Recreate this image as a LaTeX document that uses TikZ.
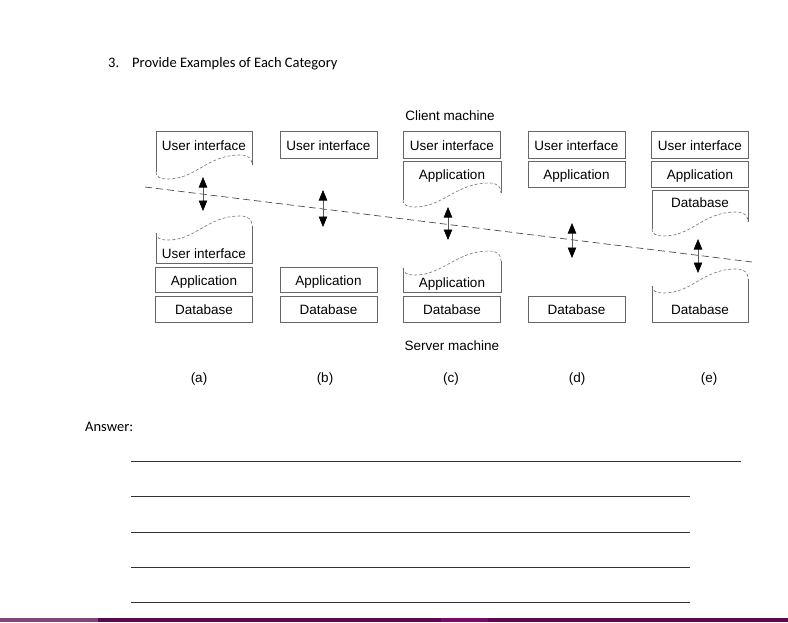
\documentclass[tikz,border=0pt]{standalone}
\usepackage{fontspec}
\setmainfont{Liberation Sans}
\newfontfamily\calfont{Carlito}
\usetikzlibrary{arrows.meta}

\newcommand\tornWave[3]{({#1},{#3+17}) .. controls ({#1},{#3+22}) and ({#1+4},{#3+24}) .. ({#1+12},{#3+24}) .. controls ({#1+40},{#3+24}) and ({#2-45},{#3}) .. ({#2-12},{#3}) .. controls ({#2-3},{#3}) and ({#2},{#3+4}) .. ({#2},{#3+10})}

\begin{document}
\begin{tikzpicture}[x=1pt,y=-1pt,
  lbl/.style={font=\fontsize{13.5}{16}\selectfont, inner sep=0pt, text height=11.2pt, text depth=0pt},
  box/.style={lbl, draw=black!60, line width=0.7pt, minimum width=97pt},
  side/.style={draw=black!60, line width=0.7pt},
  wave/.style={draw=black!55, line width=0.6pt, dash pattern=on 3pt off 2pt},
  dblarrow/.style={draw=black!65, line width=0.6pt, {Triangle[width=8.5pt,length=10.5pt,color=black]}-{Triangle[width=8.5pt,length=10.5pt,color=black]}},
  divide/.style={draw=black!70, line width=0.7pt, dash pattern=on 7pt off 4pt},
  doc/.style={font=\calfont\fontsize{14.5}{17}\selectfont, inner sep=0pt, anchor=base west},
  rule/.style={draw=black!80, line width=0.8pt}]
\useasboundingbox (0,0) rectangle (788,622);

% title
\node[doc] (num) at (108,67) {3.};
\node[doc] (title) at (132,67) {Provide Examples of Each Category};

% headings
\node[lbl] (client) at (450,114.5) {Client machine};
\node[lbl] (server) at (452,345) {Server machine};

% ---------- (a)
\draw[side] (156,172) -- (156,131) -- (252,131) -- (252,165);
\draw[wave] \tornWave{156}{252}{155};
\node[lbl] (aui) at (204,145) {User interface};
\draw[side] (156,233) -- (156,263) -- (252,263) -- (252,226);
\draw[wave] \tornWave{156}{252}{216};
\node[lbl] (aui2) at (204,253) {User interface};
\node[box, minimum height=25pt] (aapp) at (204,279.5) {Application};
\node[box, minimum height=26pt] (adb) at (204,309) {Database};

% ---------- (b)
\node[box, minimum height=27pt] (bui) at (328.5,144.5) {User interface};
\node[box, minimum height=25pt] (bapp) at (328.5,279.5) {Application};
\node[box, minimum height=26pt] (bdb) at (328.5,309) {Database};

% ---------- (c)
\node[box, minimum height=27pt] (cui) at (452,144.5) {User interface};
\draw[side] (403,200) -- (403,161) -- (501,161) -- (501,193);
\draw[wave] \tornWave{403}{501}{183};
\node[lbl] (capp) at (452,174) {Application};
\draw[side] (403,268) -- (403,292) -- (501,292) -- (501,261);
\draw[wave] \tornWave{403}{501}{251};
\node[lbl] (capp2) at (452,282) {Application};
\node[box, minimum height=26pt] (cdb) at (452,309) {Database};

% ---------- (d)
\node[box, minimum height=27pt] (dui) at (576.5,144.5) {User interface};
\node[box, minimum height=26pt] (dapp) at (576.5,174) {Application};
\node[box, minimum height=26pt] (ddb) at (576.5,309) {Database};

% ---------- (e)
\node[box, minimum height=27pt] (eui) at (700,144.5) {User interface};
\node[box, minimum height=26pt] (eapp) at (700,174) {Application};
\draw[side] (652,229) -- (652,190) -- (748,190) -- (748,222);
\draw[wave] \tornWave{652}{748}{212};
\node[lbl] (edb) at (700,202) {Database};
\draw[side] (652,286) -- (652,322) -- (748,322) -- (748,279);
\draw[wave] \tornWave{652}{748}{269};
\node[lbl] (edb2) at (700,309) {Database};

% dividing line
\coordinate (dl) at (145,187);
\coordinate (dr) at (752,262);
\draw[divide] (dl) -- (dr);

% arrows
\coordinate (at) at (203,177); \coordinate (ab) at (203,211);
\coordinate (bt) at (323,190); \coordinate (bb) at (323,227);
\coordinate (ct) at (448,207); \coordinate (cb) at (448,240);
\coordinate (dt) at (572,223); \coordinate (db) at (572,258);
\coordinate (et) at (698,239); \coordinate (eb) at (698,273);
\draw[dblarrow] (at) -- (ab);
\draw[dblarrow] (bt) -- (bb);
\draw[dblarrow] (ct) -- (cb);
\draw[dblarrow] (dt) -- (db);
\draw[dblarrow] (et) -- (eb);

% column labels
\node[lbl] (la) at (199,377) {(a)};
\node[lbl] (lb) at (325,377) {(b)};
\node[lbl] (lc) at (451,377) {(c)};
\node[lbl] (ld) at (577,377) {(d)};
\node[lbl] (le) at (709,377) {(e)};

% answer
\node[doc] (answer) at (85,431) {Answer:};
\coordinate (r1a) at (131,461); \coordinate (r1b) at (741,461);
\coordinate (r2a) at (131,496); \coordinate (r2b) at (690,496);
\coordinate (r3a) at (131,532); \coordinate (r3b) at (690,532);
\coordinate (r4a) at (131,567); \coordinate (r4b) at (690,567);
\coordinate (r5a) at (131,602); \coordinate (r5b) at (690,602);
\draw[rule] (r1a) -- (r1b);
\draw[rule] (r2a) -- (r2b);
\draw[rule] (r3a) -- (r3b);
\draw[rule] (r4a) -- (r4b);
\draw[rule] (r5a) -- (r5b);

% footer bar
\definecolor{barmain}{HTML}{5A0A4C}
\definecolor{barleft}{HTML}{7D4674}
\definecolor{barpatch}{HTML}{790A66}
\fill[barmain] (0,618) rectangle (788,622);
\fill[barleft] (0,618) rectangle (98,622);
\fill[barpatch] (441,618) rectangle (488,622);
\end{tikzpicture}
\end{document}
